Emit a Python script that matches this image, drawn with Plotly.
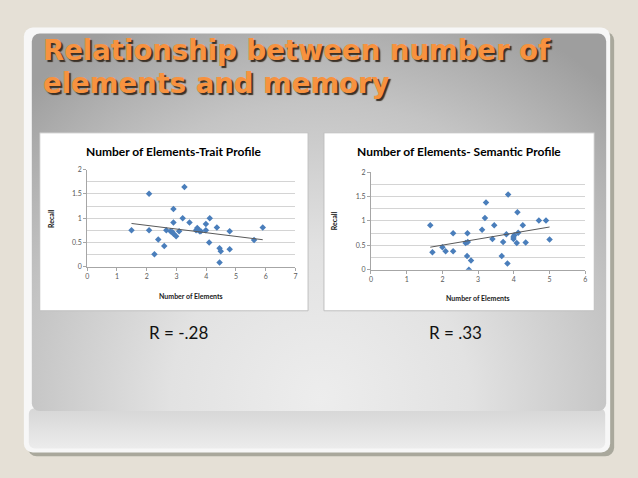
import base64
import numpy as np
import plotly.graph_objects as go

W, H = 638, 478

# Trait profile: number of elements vs recall
trait_elements = [1.49, 2.08, 2.08, 2.26, 2.39, 2.59, 2.66, 2.80, 2.87, 2.90,
                  2.90, 2.90, 2.99, 3.09, 3.21, 3.27, 3.44, 3.66, 3.70, 3.73,
                  3.78, 3.82, 3.99, 3.99, 4.12, 4.10, 4.36, 4.45, 4.49, 4.45,
                  4.79, 4.79, 5.61, 5.90]
trait_recall = [0.75, 1.50, 0.75, 0.26, 0.56, 0.43, 0.75, 0.73, 0.71, 1.19,
                0.91, 0.68, 0.63, 0.73, 1.00, 1.64, 0.91, 0.75, 0.80, 0.76,
                0.73, 0.73, 0.88, 0.75, 1.00, 0.50, 0.81, 0.38, 0.32, 0.09,
                0.73, 0.36, 0.55, 0.81]

# Semantic profile
sem_elements = [1.66, 1.72, 2.00, 2.09, 2.30, 2.30, 2.65, 2.70, 2.71, 2.69,
                2.80, 2.74, 3.11, 3.19, 3.22, 3.40, 3.45, 3.66, 3.70, 3.79,
                3.82, 3.84, 3.99, 4.01, 3.99, 4.08, 4.10, 4.12, 4.25, 4.33,
                4.70, 4.90, 5.00]
sem_recall = [0.91, 0.36, 0.46, 0.38, 0.75, 0.38, 0.55, 0.75, 0.57, 0.28,
              0.19, 0.00, 0.82, 1.06, 1.38, 0.63, 0.91, 0.28, 0.57, 0.73,
              0.13, 1.54, 0.63, 0.71, 0.67, 0.55, 1.18, 0.76, 0.91, 0.56,
              1.01, 1.01, 0.62]

title_lines = ["Relationship between number of", "elements and memory"]
chart_titles = ["Number of Elements-Trait Profile", "Number of Elements- Semantic Profile"]
r_labels = ["R = -.28", "R = .33"]


def px(x):
    return x / W


def py(y):
    return 1 - y / H


# slide background (card + gradient panel) as an svg image
svg = """<svg xmlns="http://www.w3.org/2000/svg" width="638" height="478" viewBox="0 0 638 478">
<defs>
<radialGradient id="g" gradientUnits="userSpaceOnUse" cx="320" cy="400" r="430">
<stop offset="0" stop-color="#ededed"/>
<stop offset="0.35" stop-color="#e2e2e2"/>
<stop offset="0.7" stop-color="#c4c4c4"/>
<stop offset="1" stop-color="#9e9e9e"/>
</radialGradient>
<linearGradient id="b" x1="0" y1="0" x2="0" y2="1">
<stop offset="0" stop-color="#d6d6d6"/><stop offset="1" stop-color="#ececec"/>
</linearGradient>
</defs>
<rect width="638" height="478" fill="#e5e0d6"/>
<rect x="26" y="27" width="590" height="432" rx="9" fill="#a9a89c"/>
<rect x="22" y="23" width="590" height="432" rx="9" fill="#f7f7f7"/>
<rect x="27" y="410" width="580" height="41" rx="6" fill="url(#b)"/>
<rect x="30" y="29" width="578" height="384" rx="8" fill="url(#g)"/>
</svg>"""
bg_src = "data:image/svg+xml;base64," + base64.b64encode(svg.encode()).decode()

fig = go.Figure()

blue = "#4a7ebb"
for i, (xs, ys) in enumerate([(trait_elements, trait_recall), (sem_elements, sem_recall)]):
    xa = "x" if i == 0 else "x2"
    ya = "y" if i == 0 else "y2"
    fig.add_trace(go.Scatter(x=xs, y=ys, mode="markers", xaxis=xa, yaxis=ya,
                             marker=dict(symbol="diamond", size=5, color=blue),
                             showlegend=False))
    k, b = np.polyfit(xs, ys, 1)
    lx = [min(xs), max(xs)]
    fig.add_trace(go.Scatter(x=lx, y=[k * v + b for v in lx], mode="lines",
                             xaxis=xa, yaxis=ya, line=dict(color="#595959", width=1),
                             showlegend=False))

tick_font = dict(family="Lato", size=7, color="#595959")
ax_common = dict(showline=True, linecolor="#a6a6a6", linewidth=1, ticks="outside",
                 ticklen=3, tickcolor="#a6a6a6", tickfont=tick_font, zeroline=False,
                 fixedrange=True)

fig.update_layout(
    width=W, height=H,
    margin=dict(l=0, r=0, t=0, b=0),
    paper_bgcolor="#e5e0d6",
    plot_bgcolor="rgba(0,0,0,0)",
    xaxis=dict(domain=[px(85.7), px(295.3)], range=[0, 7], dtick=1, showgrid=False,
               anchor="y", **ax_common),
    yaxis=dict(domain=[py(266.3), py(167.3)], range=[0, 2], dtick=0.5, showgrid=True,
               gridcolor="#d4d4d4", minor=dict(dtick=0.25, showgrid=True, gridcolor="#d4d4d4"),
               anchor="x", **ax_common),
    xaxis2=dict(domain=[px(371.3), px(587)], range=[0, 6], dtick=1, showgrid=False,
                anchor="y2", **ax_common),
    yaxis2=dict(domain=[py(269.3), py(170)], range=[0, 2], dtick=0.5, showgrid=True,
                gridcolor="#d4d4d4", minor=dict(dtick=0.25, showgrid=True, gridcolor="#d4d4d4"),
                anchor="x2", **ax_common),
    images=[dict(source=bg_src, xref="paper", yref="paper", x=0, y=1, sizex=1, sizey=1,
                 sizing="stretch", xanchor="left", yanchor="top", layer="below")],
    shapes=[
        dict(type="rect", xref="paper", yref="paper", x0=px(38), x1=px(308), y0=py(311), y1=py(130),
             fillcolor="white", line=dict(color="#bfbfbf", width=1), layer="below"),
        dict(type="rect", xref="paper", yref="paper", x0=px(324), x1=px(596), y0=py(311), y1=py(130),
             fillcolor="white", line=dict(color="#bfbfbf", width=1), layer="below"),
    ],
)

ann = []
for line, cy in zip(title_lines, [46, 79]):
    ann.append(dict(text=line, x=px(39), y=py(cy), xref="paper", yref="paper",
                    xanchor="left", yanchor="middle", align="left", showarrow=False,
                    font=dict(family="DejaVu Sans", size=27.5, color="#f7923f", weight="bold",
                              shadow="2px 2px 1px #3a3026")))


def label(t, cx, cy, **font):
    return dict(text=t, x=px(cx), y=py(cy), xref="paper", yref="paper",
                xanchor="center", yanchor="middle", showarrow=False, font=font)


for (cx, cy), t in zip([(173, 149), (460, 149)], chart_titles):
    ann.append(label(t, cx, cy, family="Lato", size=12, color="#000000", weight="bold"))
for (cx, cy) in [(50, 217), (334, 219)]:
    a = label("Recall", cx, cy, family="Lato", size=7, color="#1a1a1a", weight="bold")
    a["textangle"] = -90
    ann.append(a)
for (cx, cy) in [(190, 296), (479, 298)]:
    ann.append(label("Number of Elements", cx, cy, family="Lato", size=7,
                     color="#1a1a1a", weight="bold"))
for (cx, cy), t in zip([(178, 333), (456, 333)], r_labels):
    ann.append(label(t, cx, cy, family="Lato", size=17, color="#111111"))
fig.update_layout(annotations=ann)

fig.write_html("out.html", config={"displayModeBar": False},
               post_script="document.body.style.margin='0';")
